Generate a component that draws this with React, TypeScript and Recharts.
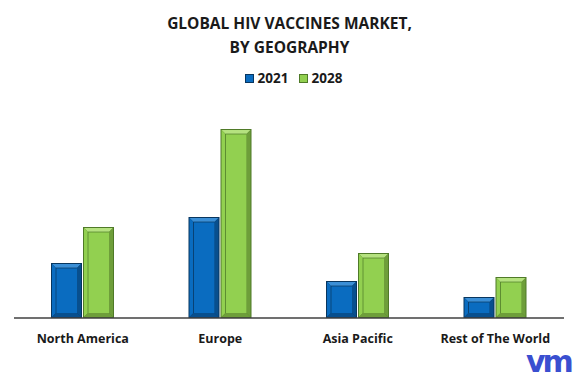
import { BarChart, Bar, XAxis, YAxis } from "recharts";

const regions = ["North America", "Europe", "Asia Pacific", "Rest of The World"];
const values2021 = [55, 101, 37, 21];
const values2028 = [91, 189, 65, 41];

const chartData = regions.map((r, i) => ({
  region: r,
  "2021": values2021[i],
  "2028": values2028[i],
}));

const FONT = "'Open Sans', 'Liberation Sans', sans-serif";

function bevelShape(main: string, light: string, dark: string, edge: string) {
  return (props: any) => {
    const { x, y, width, height } = props;
    if (!height || height <= 0) return <g />;
    const b = 4;
    return (
      <g>
        <rect x={x} y={y} width={width} height={height} fill={edge} />
        <polygon
          points={`${x + 1},${y + 1} ${x + width - 1},${y + 1} ${x + width - 1 - b},${y + 1 + b} ${x + 1 + b},${y + 1 + b}`}
          fill={light}
        />
        <polygon
          points={`${x + 1},${y + 1} ${x + 1 + b},${y + 1 + b} ${x + 1 + b},${y + height - 1 - b} ${x + 1},${y + height - 1}`}
          fill={main}
        />
        <polygon
          points={`${x + width - 1},${y + 1} ${x + width - 1},${y + height - 1} ${x + width - 1 - b},${y + height - 1 - b} ${x + width - 1 - b},${y + 1 + b}`}
          fill={dark}
        />
        <polygon
          points={`${x + 1},${y + height - 1} ${x + width - 1},${y + height - 1} ${x + width - 1 - b},${y + height - 1 - b} ${x + 1 + b},${y + height - 1 - b}`}
          fill={dark}
        />
        <rect
          x={x + 1 + b}
          y={y + 1 + b}
          width={Math.max(0, width - 2 - 2 * b)}
          height={Math.max(0, height - 2 - 2 * b)}
          fill={main}
        />
        <path
          d={`M${x + 1 + b},${y + height - 1 - b} V${y + 1 + b} H${x + width - 1 - b}`}
          stroke={edge}
          strokeWidth={1}
          fill="none"
          opacity={0.7}
        />
      </g>
    );
  };
}

const blueShape = bevelShape("#0a6cc0", "#3b8fd6", "#084f8e", "#08365f");
const greenShape = bevelShape("#92d050", "#b5e27f", "#6e9e3a", "#4f7a28");

export default function App() {
  return (
    <div
      style={{
        position: "absolute",
        left: 0,
        top: 0,
        width: 579,
        height: 383,
        background: "#fff",
        fontFamily: FONT,
      }}
    >
      <div
        style={{
          position: "absolute",
          top: 11,
          left: 0,
          width: 579,
          textAlign: "center",
          fontWeight: 700,
          fontSize: 15.5,
          lineHeight: "24px",
          color: "#1a1a1a",
        }}
      >
        GLOBAL HIV VACCINES MARKET,
        <br />
        BY GEOGRAPHY
      </div>
      <div
        style={{
          position: "absolute",
          top: 69,
          left: 4,
          width: 579,
          display: "flex",
          justifyContent: "center",
          gap: 10,
          fontWeight: 700,
          fontSize: 13.5,
          color: "#1a1a1a",
        }}
      >
        <span style={{ display: "flex", alignItems: "center", gap: 4 }}>
          <span style={{ width: 7, height: 7, background: "#0a6cc0", border: "1px solid #08365f", display: "inline-block" }} />
          2021
        </span>
        <span style={{ display: "flex", alignItems: "center", gap: 4 }}>
          <span style={{ width: 7, height: 7, background: "#92d050", border: "1px solid #4f7a28", display: "inline-block" }} />
          2028
        </span>
      </div>
      <BarChart
        width={579}
        height={383}
        data={chartData}
        margin={{ top: 118, right: 15, left: 14, bottom: 35 }}
        barSize={31}
        barGap={1}
      >
        <XAxis
          dataKey="region"
          axisLine={{ stroke: "#404040", strokeWidth: 1.5 }}
          tickLine={false}
          tickMargin={10}
          interval={0}
          tick={{ fontSize: 12.5, fontWeight: 700, fill: "#1a1a1a", fontFamily: FONT }}
        />
        <YAxis hide domain={[0, 200]} />
        <Bar dataKey="2021" fill="#0a6cc0" shape={blueShape} isAnimationActive={false} />
        <Bar dataKey="2028" fill="#92d050" shape={greenShape} isAnimationActive={false} />
      </BarChart>
      <div
        style={{
          position: "absolute",
          left: 526,
          top: 347,
          fontSize: 30,
          fontWeight: 700,
          fontFamily: "'DejaVu Sans', sans-serif",
          color: "#3a4fd0",
          letterSpacing: -3,
          lineHeight: "30px",
        }}
      >
        vm
      </div>
    </div>
  );
}
